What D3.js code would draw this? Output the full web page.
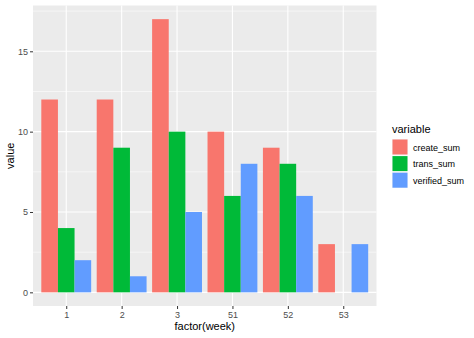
<!DOCTYPE html>
<html>
<head>
<meta charset="utf-8">
<script src="https://cdn.jsdelivr.net/npm/d3@7"></script>
<style>
  html, body { margin: 0; padding: 0; background: #fff; }
  svg { display: block; font-family: "Liberation Sans", Arial, sans-serif; }
</style>
</head>
<body>
<svg id="chart" width="474" height="338"></svg>
<script>
// Weekly sums per variable
const weeks = ["1", "2", "3", "51", "52", "53"];
const variables = ["create_sum", "trans_sum", "verified_sum"];
const createSum = [12, 12, 17, 10, 9, 3];
const transSum = [4, 9, 10, 6, 8, null];
const verifiedSum = [2, 1, 5, 8, 6, 3];
const colors = ["#F8766D", "#00BA38", "#619CFF"];
const yTicks = [0, 5, 10, 15];
const yMinor = [2.5, 7.5, 12.5, 17.5];

const seriesValues = [createSum, transSum, verifiedSum];
const rows = [];
weeks.forEach((w, i) => {
  variables.forEach((v, j) => {
    const val = seriesValues[j][i];
    if (val !== null) rows.push({ week: w, variable: v, value: val });
  });
});

const svg = d3.select("#chart");
const panel = { left: 33, right: 376.5, top: 5.5, bottom: 306 };

// discrete x axis with ggplot-style 0.6 expansion on each side
const step = (panel.right - panel.left) / (weeks.length - 1 + 1.2);
const x = d3.scalePoint().domain(weeks)
  .range([panel.left + 0.6 * step, panel.right - 0.6 * step]);
const dodgeWidth = 0.9 * step;
const xSub = d3.scaleBand().domain(variables)
  .range([-dodgeWidth / 2, dodgeWidth / 2]).padding(0);

const yMax = 17;
const y = d3.scaleLinear()
  .domain([-0.05 * yMax, yMax * 1.05])
  .range([panel.bottom, panel.top]);

const color = d3.scaleOrdinal().domain(variables).range(colors);

// panel background
svg.append("rect")
  .attr("x", panel.left).attr("y", panel.top)
  .attr("width", panel.right - panel.left)
  .attr("height", panel.bottom - panel.top)
  .attr("fill", "#EBEBEB");

// grid lines
const grid = svg.append("g");
grid.selectAll("line.minor").data(yMinor).join("line")
  .attr("class", "minor")
  .attr("x1", panel.left).attr("x2", panel.right)
  .attr("y1", d => y(d)).attr("y2", d => y(d))
  .attr("stroke", "#fff").attr("stroke-width", 0.55);
grid.selectAll("line.majory").data(yTicks).join("line")
  .attr("class", "majory")
  .attr("x1", panel.left).attr("x2", panel.right)
  .attr("y1", d => y(d)).attr("y2", d => y(d))
  .attr("stroke", "#fff").attr("stroke-width", 1.1);
grid.selectAll("line.majorx").data(weeks).join("line")
  .attr("class", "majorx")
  .attr("y1", panel.top).attr("y2", panel.bottom)
  .attr("x1", d => x(d)).attr("x2", d => x(d))
  .attr("stroke", "#fff").attr("stroke-width", 1.1);

// bars
svg.append("g").selectAll("rect").data(rows).join("rect")
  .attr("x", d => x(d.week) + xSub(d.variable))
  .attr("width", xSub.bandwidth())
  .attr("y", d => y(d.value))
  .attr("height", d => y(0) - y(d.value))
  .attr("fill", d => color(d.variable));

// axes
const yAxis = svg.append("g")
  .attr("transform", `translate(${panel.left},0)`)
  .call(d3.axisLeft(y).tickValues(yTicks).tickSize(3).tickPadding(2));
const xAxis = svg.append("g")
  .attr("transform", `translate(0,${panel.bottom})`)
  .call(d3.axisBottom(x).tickSize(3).tickPadding(3));
[yAxis, xAxis].forEach(a => {
  a.select(".domain").remove();
  a.selectAll(".tick line").attr("stroke", "#333").attr("stroke-width", 1);
  a.selectAll(".tick text").attr("fill", "#4D4D4D")
    .style("font-size", "9px").style("font-family", "Liberation Sans, Arial, sans-serif");
});

// axis titles
svg.append("text")
  .attr("x", (panel.left + panel.right) / 2).attr("y", 330)
  .attr("text-anchor", "middle")
  .style("font-size", "11px").attr("fill", "#000")
  .text("factor(week)");
svg.append("text")
  .attr("transform", `translate(14,${(panel.top + panel.bottom) / 2}) rotate(-90)`)
  .attr("text-anchor", "middle")
  .style("font-size", "11px").attr("fill", "#000")
  .text("value");

// legend
const legend = svg.append("g").attr("transform", "translate(392,0)");
legend.append("text").attr("x", 0).attr("y", 133)
  .style("font-size", "11px").attr("fill", "#000").text("variable");
const keys = legend.selectAll("g.key").data(variables).join("g")
  .attr("class", "key")
  .attr("transform", (d, i) => `translate(0,${139 + i * 16.6})`);
keys.append("rect").attr("width", 15.7).attr("height", 15.7)
  .attr("fill", "#F2F2F2");
keys.append("rect").attr("x", 0.5).attr("y", 0.5).attr("width", 15).attr("height", 15)
  .attr("fill", d => color(d));
keys.append("text").attr("x", 21).attr("y", 11.5)
  .style("font-size", "9px").attr("fill", "#000").text(d => d);
</script>
</body>
</html>
